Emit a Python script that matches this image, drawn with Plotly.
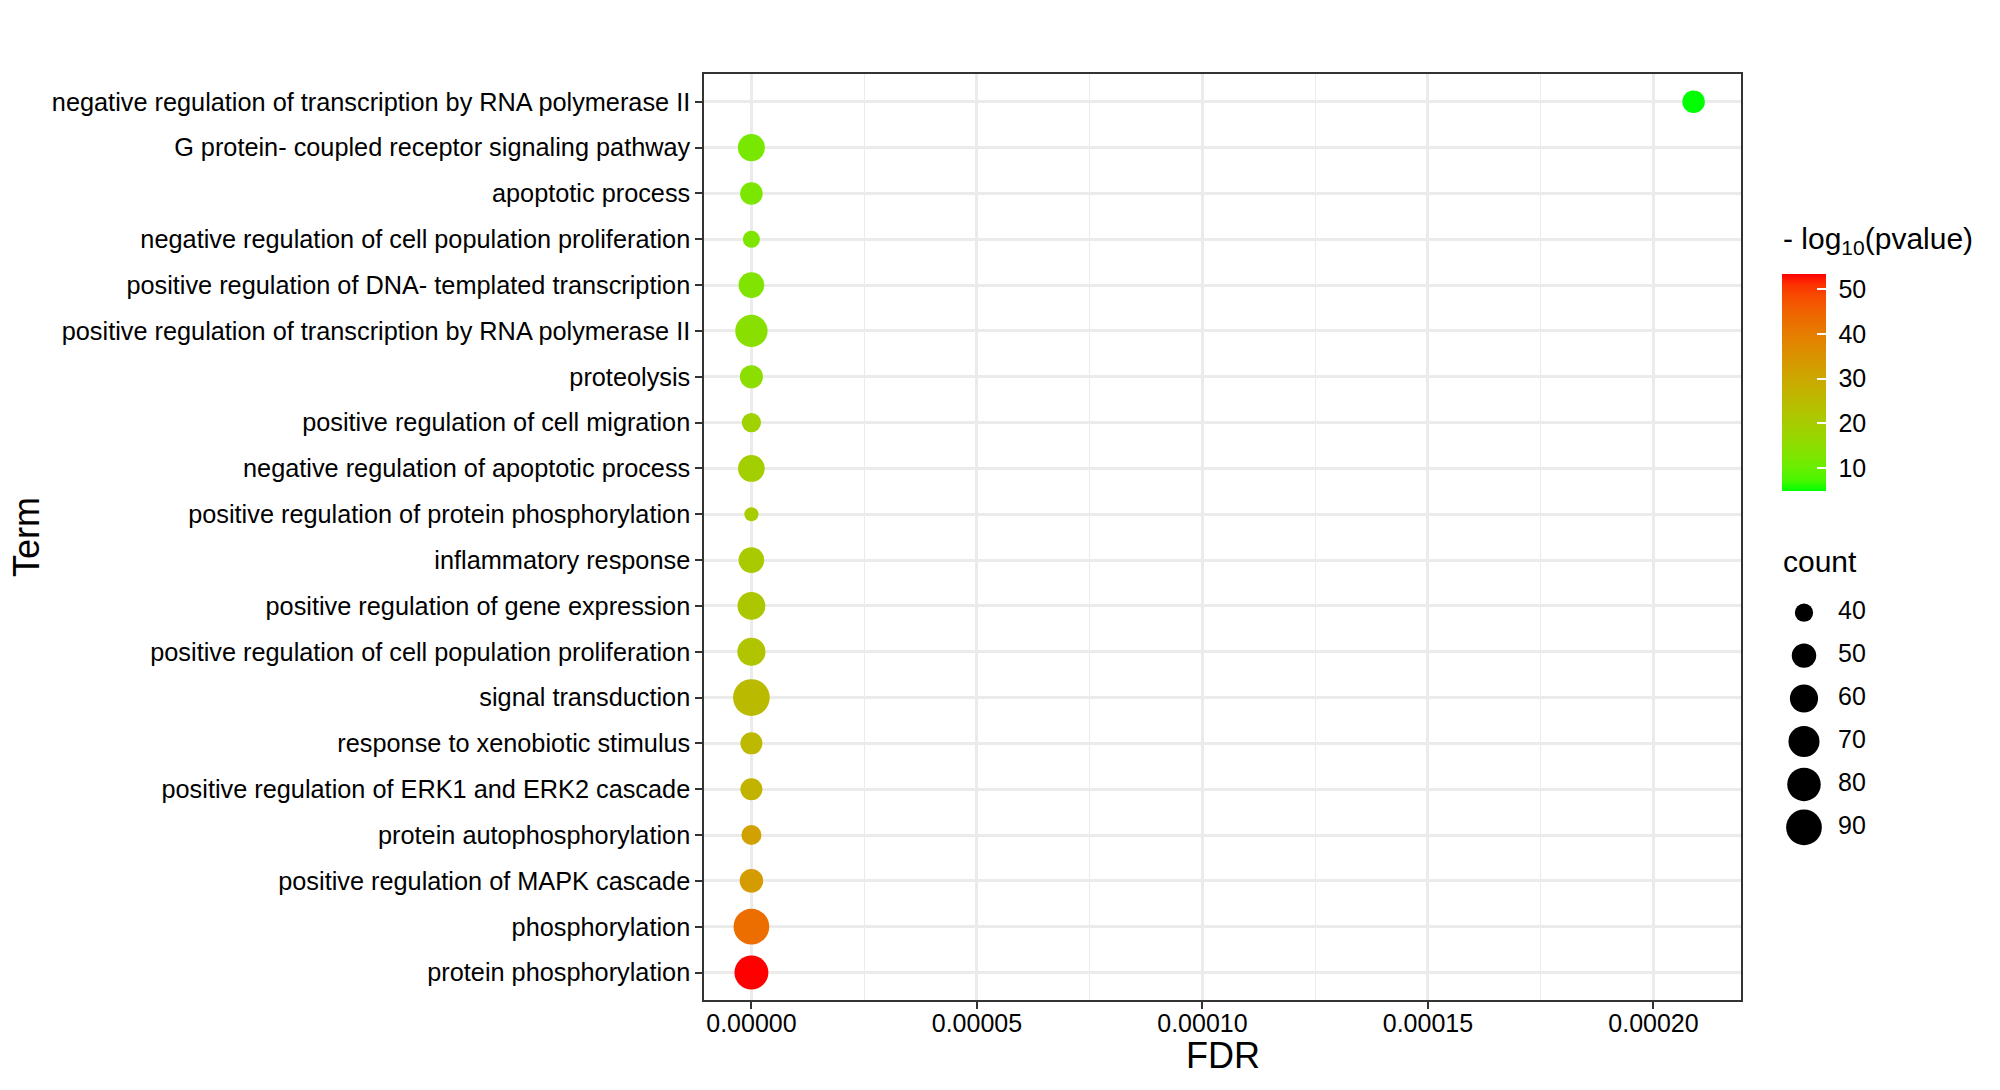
import numpy as np
import plotly.graph_objects as go

# GO terms, top row first
terms = [
    "negative regulation of transcription by RNA polymerase II",
    "G protein- coupled receptor signaling pathway",
    "apoptotic process",
    "negative regulation of cell population proliferation",
    "positive regulation of DNA- templated transcription",
    "positive regulation of transcription by RNA polymerase II",
    "proteolysis",
    "positive regulation of cell migration",
    "negative regulation of apoptotic process",
    "positive regulation of protein phosphorylation",
    "inflammatory response",
    "positive regulation of gene expression",
    "positive regulation of cell population proliferation",
    "signal transduction",
    "response to xenobiotic stimulus",
    "positive regulation of ERK1 and ERK2 cascade",
    "protein autophosphorylation",
    "positive regulation of MAPK cascade",
    "phosphorylation",
    "protein phosphorylation",
]
fdr = [2.089e-4, 6.1e-11, 5.2e-11, 3.4e-11, 2.9e-11, 1.1e-11, 8.3e-12, 1.5e-16, 4.8e-17,
       5.9e-18, 1.2e-18, 2.6e-19, 4.1e-20, 1.3e-22, 2.4e-23, 9.7e-25, 3.1e-29, 9.6e-31,
       1.0e-40, 3.9e-51]
neglog10p = [4.9, 12.0, 12.3, 12.8, 13.2, 14.5, 14.9, 18.6, 19.2, 20.1, 20.8, 21.5, 22.3,
             24.9, 25.6, 27.0, 31.5, 33.0, 43.0, 53.4]
count = [46, 57, 46, 39, 53, 75, 47, 41, 56, 38, 53, 59, 60, 95, 45, 45, 42, 48, 90, 82]

color_ticks = [10, 20, 30, 40, 50]
size_breaks = [40, 50, 60, 70, 80, 90]

W, H = 2000, 1090
FONT = "Liberation Sans, Arial, sans-serif"


# ggplot-like gradient: green -> red interpolated in CIELAB
def _lin(c):
    return np.where(c <= 0.04045, c / 12.92, ((c + 0.055) / 1.055) ** 2.4)


def _gam(c):
    c = np.clip(c, 0, 1)
    return np.where(c <= 0.0031308, 12.92 * c, 1.055 * c ** (1 / 2.4) - 0.055)


M = np.array([[0.4124, 0.3576, 0.1805], [0.2126, 0.7152, 0.0722], [0.0193, 0.1192, 0.9505]])
WHITE = np.array([0.95047, 1.0, 1.08883])


def rgb_to_lab(rgb):
    xyz = M @ _lin(np.array(rgb) / 255.0) / WHITE
    f = np.where(xyz > 0.008856, np.cbrt(xyz), 7.787 * xyz + 16 / 116)
    return np.array([116 * f[1] - 16, 500 * (f[0] - f[1]), 200 * (f[1] - f[2])])


def lab_to_rgb(lab):
    fy = (lab[0] + 16) / 116
    f = np.array([fy + lab[1] / 500, fy, fy - lab[2] / 200])
    xyz = np.where(f ** 3 > 0.008856, f ** 3, (f - 16 / 116) / 7.787) * WHITE
    rgb = _gam(np.linalg.solve(M, xyz)) * 255
    return "rgb(%d,%d,%d)" % tuple(np.round(rgb).astype(int))


lo, hi = rgb_to_lab([0, 255, 0]), rgb_to_lab([255, 0, 0])
colorscale = [[t, lab_to_rgb(lo + (hi - lo) * t)] for t in np.linspace(0, 1, 21)]

# point diameter in px (area-style scale as ggplot)
cmin, cmax = min(count), max(count)


def diam(c):
    return 14.06 + 22.65 * np.sqrt((np.array(c) - cmin) / (cmax - cmin))


fig = go.Figure()

fig.add_trace(
    go.Scatter(
        x=fdr,
        y=terms,
        mode="markers",
        marker=dict(
            size=diam(count),
            color=neglog10p,
            colorscale=colorscale,
            cmin=min(neglog10p),
            cmax=max(neglog10p),
            line=dict(width=0),
            opacity=1,
            colorbar=dict(
                x=1782 / W, xanchor="left", xpad=0,
                y=1 - 382.5 / H, yanchor="middle", ypad=0,
                len=217 / H, lenmode="fraction",
                thickness=44, outlinewidth=0,
                tickvals=color_ticks,
                ticktext=[" " + str(v) for v in color_ticks],
                ticks="inside", tickcolor="white", ticklen=9, tickwidth=1.5,
                tickfont=dict(family=FONT, size=25, color="black"),
            ),
        ),
        showlegend=False,
        hoverinfo="x+y",
    )
)

# size legend drawn on its own small axes
fig.add_trace(
    go.Scatter(
        x=[0] * len(size_breaks),
        y=size_breaks,
        mode="markers",
        marker=dict(size=diam(size_breaks), color="#000000", opacity=1, line=dict(width=0)),
        xaxis="x2", yaxis="y2", showlegend=False, hoverinfo="skip",
    )
)
fig.add_trace(
    go.Scatter(
        x=[1] * len(size_breaks),
        y=size_breaks,
        mode="text",
        text=[str(v) for v in size_breaks],
        textposition="middle right",
        textfont=dict(family=FONT, size=25, color="black"),
        xaxis="x2", yaxis="y2", showlegend=False, hoverinfo="skip",
    )
)

grid = "#EBEBEB"
border = "#333333"
fig.update_layout(
    width=W, height=H,
    margin=dict(l=0, r=0, t=0, b=0),
    template="none",
    paper_bgcolor="white", plot_bgcolor="white",
    font=dict(family=FONT, color="black"),
    xaxis=dict(
        domain=[704.3 / W, 1740.7 / W],
        range=[-1.0445e-5, 2.1934e-4],
        tickvals=[0, 5e-5, 1e-4, 1.5e-4, 2e-4],
        tickformat=".5f",
        tickfont=dict(size=25, color="black"),
        ticks="outside", ticklen=7, tickwidth=2, tickcolor=border,
        ticklabelstandoff=-7,
        showgrid=True, gridcolor=grid, gridwidth=2.5,
        minor=dict(tickvals=[2.5e-5, 7.5e-5, 1.25e-4, 1.75e-4], showgrid=True,
                   gridcolor=grid, gridwidth=1.3, ticks=""),
        showline=True, linecolor=border, linewidth=2, mirror=True,
        zeroline=False, automargin=False,
    ),
    yaxis=dict(
        domain=[1 - 1000 / H, 1 - 74.3 / H],
        type="category",
        categoryorder="array", categoryarray=terms,
        range=[19.6, -0.6],
        tickfont=dict(size=25.3, color="black"),
        ticks="outside", ticklen=7, tickwidth=2, tickcolor=border,
        showgrid=True, gridcolor=grid, gridwidth=2.5,
        showline=True, linecolor=border, linewidth=2, mirror=True,
        zeroline=False, automargin=False,
    ),
    xaxis2=dict(
        domain=[1784 / W, 1900 / W], range=[-0.588, 2.824],
        visible=False, fixedrange=True,
    ),
    yaxis2=dict(
        domain=[1 - 850 / H, 1 - 590 / H], range=[95.29, 34.71],
        visible=False, fixedrange=True, anchor="x2",
    ),
    annotations=[
        dict(text="FDR", x=1222.5 / W, y=1 - 1055.7 / H, xref="paper", yref="paper",
             showarrow=False, font=dict(size=36), xanchor="center", yanchor="middle"),
        dict(text="Term", x=26 / W, y=1 - 537 / H, xref="paper", yref="paper",
             showarrow=False, font=dict(size=36), textangle=-90,
             xanchor="center", yanchor="middle"),
        dict(text="- log<sub>10</sub>(pvalue)", x=1781 / W, y=1 - 240 / H,
             xref="paper", yref="paper", showarrow=False, font=dict(size=30),
             xanchor="left", yanchor="middle"),
        dict(text="count", x=1781 / W, y=1 - 561 / H, xref="paper", yref="paper",
             showarrow=False, font=dict(size=30), xanchor="left", yanchor="middle"),
    ],
)

fig.write_html(
    "out.html",
    config={"displayModeBar": False},
    post_script="document.body.style.margin='0';",
)
